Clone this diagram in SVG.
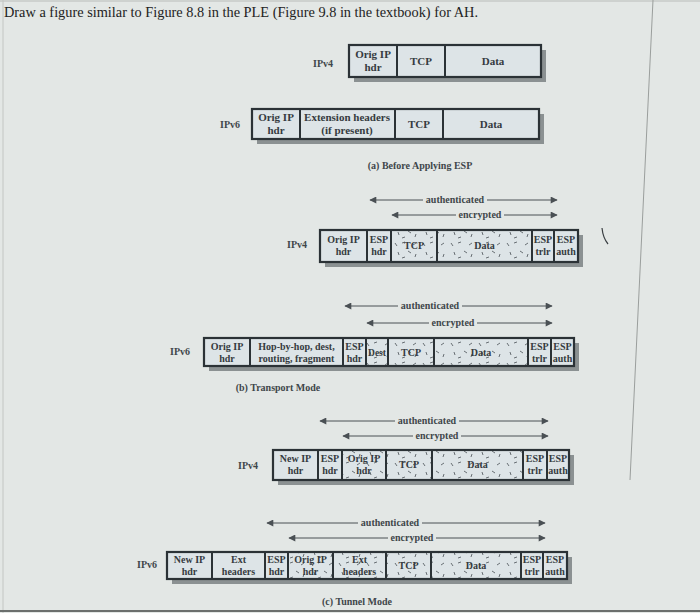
<svg xmlns="http://www.w3.org/2000/svg" width="700" height="613" viewBox="0 0 700 613">
<style>
.bg{fill:#e3e7e5}
.sh{fill:#8b9192}
.bx{fill:#dde4e7;stroke:#2b3236;stroke-width:2.2}
.dv{stroke:#2b3236;stroke-width:2}
.sp{fill:url(#spk)}
.t{font-family:"Liberation Serif","Times New Roman",serif;font-weight:bold;font-size:10px;fill:#353b40;text-anchor:middle}
.ta{font-size:11px}
.lb{font-family:"Liberation Serif","Times New Roman",serif;font-weight:bold;font-size:10px;fill:#40464a;text-anchor:middle}
.ar{stroke:#4a5054;stroke-width:1;fill:none;marker-start:url(#ah);marker-end:url(#ah)}
.gap{fill:#e3e7e5}
.title{font-family:"Liberation Serif","Times New Roman",serif;font-size:15px;fill:#222}
</style>
<defs>
<marker id="ah" viewBox="0 0 10 10" refX="9" refY="5" markerWidth="10" markerHeight="7" markerUnits="userSpaceOnUse" orient="auto-start-reverse">
<path d="M0 0L10 5L0 10z" fill="#4a5054"/>
</marker>
<pattern id="spk" width="28" height="20" patternUnits="userSpaceOnUse">
<path d="M3 3l2 3M13 2l-3 1M21 5l3-2M6 12l1 3M16 11l3 2M24 14l-1 3M10 18l3-1" stroke="#5a6165" stroke-width="0.9"/>
</pattern>
</defs>
<rect class="bg" x="0" y="0" width="700" height="613"/>
<line x1="0" y1="1" x2="700" y2="1" stroke="#b9bcb9" stroke-width="1"/>
<line x1="653" y1="0" x2="630" y2="480" stroke="#9a9e9c" stroke-width="1"/>
<line x1="3" y1="0" x2="3" y2="613" stroke="#c3c6c3" stroke-width="1"/>
<line x1="0" y1="611" x2="700" y2="611" stroke="#6b6f6d" stroke-width="2"/>
<text class="title" x="4" y="17" textLength="474" lengthAdjust="spacingAndGlyphs">Draw a figure similar to Figure 8.8 in the PLE (Figure 9.8 in the textbook) for AH.</text>
<path d="M602 228 q1 10 6 16" stroke="#3a3f42" stroke-width="1.2" fill="none"/>

<!-- (a) IPv4 -->
<g id="a-ipv4">
<text class="lb ta" x="323" y="67">IPv4</text>
<rect class="sh" x="354" y="50" width="192" height="32"/>
<rect class="bx" x="349" y="45" width="192" height="32"/>
<line class="dv" x1="397" y1="45" x2="397" y2="77"/>
<line class="dv" x1="445" y1="45" x2="445" y2="77"/>
<text class="t ta" x="373" y="58">Orig IP</text><text class="t ta" x="373" y="71">hdr</text>
<text class="t ta" x="421" y="65">TCP</text>
<text class="t ta" x="493" y="65">Data</text>
</g>

<!-- (a) IPv6 -->
<g id="a-ipv6">
<text class="lb ta" x="230" y="128">IPv6</text>
<rect class="sh" x="257" y="114" width="287" height="30"/>
<rect class="bx" x="252" y="109" width="287" height="30"/>
<line class="dv" x1="300" y1="109" x2="300" y2="139"/>
<line class="dv" x1="395" y1="109" x2="395" y2="139"/>
<line class="dv" x1="443" y1="109" x2="443" y2="139"/>
<text class="t ta" x="276" y="121">Orig IP</text><text class="t ta" x="276" y="134">hdr</text>
<text class="t ta" x="347" y="121">Extension headers</text><text class="t ta" x="347" y="134">(if present)</text>
<text class="t ta" x="419" y="128">TCP</text>
<text class="t ta" x="491" y="128">Data</text>
</g>
<text class="lb ta" x="420" y="169">(a) Before Applying ESP</text>

<!-- connectors (arrows) -->
<g id="connectors">
<line class="ar" x1="370" y1="200" x2="557" y2="200"/>
<rect class="gap" x="423" y="194" width="64" height="12"/>
<text class="lb" x="455" y="203">authenticated</text>
<line class="ar" x1="392" y1="215" x2="557" y2="215"/>
<rect class="gap" x="456" y="209" width="48" height="12"/>
<text class="lb" x="480" y="218">encrypted</text>

<line class="ar" x1="345" y1="306" x2="552" y2="306"/>
<rect class="gap" x="398" y="300" width="64" height="12"/>
<text class="lb" x="430" y="309">authenticated</text>
<line class="ar" x1="367" y1="323" x2="552" y2="323"/>
<rect class="gap" x="429" y="317" width="48" height="12"/>
<text class="lb" x="453" y="326">encrypted</text>

<line class="ar" x1="320" y1="421" x2="548" y2="421"/>
<rect class="gap" x="395" y="415" width="64" height="12"/>
<text class="lb" x="427" y="424">authenticated</text>
<line class="ar" x1="343" y1="436" x2="548" y2="436"/>
<rect class="gap" x="413" y="430" width="48" height="12"/>
<text class="lb" x="437" y="439">encrypted</text>

<line class="ar" x1="267" y1="523" x2="545" y2="523"/>
<rect class="gap" x="358" y="517" width="64" height="12"/>
<text class="lb" x="390" y="526">authenticated</text>
<line class="ar" x1="289" y1="538" x2="545" y2="538"/>
<rect class="gap" x="388" y="532" width="48" height="12"/>
<text class="lb" x="412" y="541">encrypted</text>
</g>

<!-- (b) IPv4 -->
<g id="b-ipv4">
<text class="lb" x="297" y="248">IPv4</text>
<rect class="sh" x="325" y="235" width="258" height="32"/>
<rect class="bx" x="320" y="230" width="258" height="32"/>
<rect class="sp" x="391" y="231" width="141" height="30"/>
<line class="dv" x1="367" y1="230" x2="367" y2="262"/>
<line class="dv" x1="391" y1="230" x2="391" y2="262"/>
<line class="dv" x1="437" y1="230" x2="437" y2="262"/>
<line class="dv" x1="532" y1="230" x2="532" y2="262"/>
<line class="dv" x1="554" y1="230" x2="554" y2="262"/>
<text class="t" x="343.5" y="243">Orig IP</text><text class="t" x="343.5" y="255">hdr</text>
<text class="t" x="379" y="243">ESP</text><text class="t" x="379" y="255">hdr</text>
<text class="t" x="414" y="249">TCP</text>
<text class="t" x="484.5" y="249">Data</text>
<text class="t" x="543" y="243">ESP</text><text class="t" x="543" y="255">trlr</text>
<text class="t" x="566" y="243">ESP</text><text class="t" x="566" y="255">auth</text>
</g>

<!-- (b) IPv6 -->
<g id="b-ipv6">
<text class="lb" x="180" y="355">IPv6</text>
<rect class="sh" x="209" y="343" width="370" height="28"/>
<rect class="bx" x="204" y="338" width="370" height="28"/>
<rect class="sp" x="366" y="339" width="162" height="26"/>
<line class="dv" x1="250" y1="338" x2="250" y2="366"/>
<line class="dv" x1="343" y1="338" x2="343" y2="366"/>
<line class="dv" x1="366" y1="338" x2="366" y2="366"/>
<line class="dv" x1="388" y1="338" x2="388" y2="366"/>
<line class="dv" x1="434" y1="338" x2="434" y2="366"/>
<line class="dv" x1="528" y1="338" x2="528" y2="366"/>
<line class="dv" x1="551" y1="338" x2="551" y2="366"/>
<text class="t" x="227" y="350">Orig IP</text><text class="t" x="227" y="362">hdr</text>
<text class="t" x="296.5" y="350">Hop-by-hop, dest,</text><text class="t" x="296.5" y="362">routing, fragment</text>
<text class="t" x="354.5" y="350">ESP</text><text class="t" x="354.5" y="362">hdr</text>
<text class="t" x="377" y="356" style="font-size:9.5px">Dest</text>
<text class="t" x="411" y="356">TCP</text>
<text class="t" x="481" y="356">Data</text>
<text class="t" x="539.5" y="350">ESP</text><text class="t" x="539.5" y="362">trlr</text>
<text class="t" x="562.5" y="350">ESP</text><text class="t" x="562.5" y="362">auth</text>
</g>
<text class="lb" x="278" y="391">(b) Transport Mode</text>

<!-- (c) IPv4 -->
<g id="c-ipv4">
<text class="lb" x="248" y="469">IPv4</text>
<rect class="sh" x="278" y="455" width="296" height="30"/>
<rect class="bx" x="273" y="450" width="296" height="30"/>
<rect class="sp" x="342" y="451" width="181" height="28"/>
<line class="dv" x1="318" y1="450" x2="318" y2="480"/>
<line class="dv" x1="342" y1="450" x2="342" y2="480"/>
<line class="dv" x1="386" y1="450" x2="386" y2="480"/>
<line class="dv" x1="432" y1="450" x2="432" y2="480"/>
<line class="dv" x1="523" y1="450" x2="523" y2="480"/>
<line class="dv" x1="547" y1="450" x2="547" y2="480"/>
<text class="t" x="295.5" y="462">New IP</text><text class="t" x="295.5" y="474">hdr</text>
<text class="t" x="330" y="462">ESP</text><text class="t" x="330" y="474">hdr</text>
<text class="t" x="364" y="462">Orig IP</text><text class="t" x="364" y="474">hdr</text>
<text class="t" x="409" y="468">TCP</text>
<text class="t" x="477.5" y="468">Data</text>
<text class="t" x="535" y="462">ESP</text><text class="t" x="535" y="474">trlr</text>
<text class="t" x="558" y="462">ESP</text><text class="t" x="558" y="474">auth</text>
</g>

<!-- (c) IPv6 -->
<g id="c-ipv6">
<text class="lb" x="147" y="568">IPv6</text>
<rect class="sh" x="172" y="557" width="400" height="27"/>
<rect class="bx" x="167" y="552" width="400" height="27"/>
<rect class="sp" x="288" y="553" width="233" height="25"/>
<line class="dv" x1="212" y1="552" x2="212" y2="579"/>
<line class="dv" x1="265" y1="552" x2="265" y2="579"/>
<line class="dv" x1="288" y1="552" x2="288" y2="579"/>
<line class="dv" x1="333" y1="552" x2="333" y2="579"/>
<line class="dv" x1="386" y1="552" x2="386" y2="579"/>
<line class="dv" x1="431" y1="552" x2="431" y2="579"/>
<line class="dv" x1="521" y1="552" x2="521" y2="579"/>
<line class="dv" x1="543" y1="552" x2="543" y2="579"/>
<text class="t" x="189.5" y="563">New IP</text><text class="t" x="189.5" y="575">hdr</text>
<text class="t" x="238.5" y="563">Ext</text><text class="t" x="238.5" y="575">headers</text>
<text class="t" x="276.5" y="563">ESP</text><text class="t" x="276.5" y="575">hdr</text>
<text class="t" x="310.5" y="563">Orig IP</text><text class="t" x="310.5" y="575">hdr</text>
<text class="t" x="359.5" y="563">Ext</text><text class="t" x="359.5" y="575">headers</text>
<text class="t" x="408.5" y="569">TCP</text>
<text class="t" x="476" y="569">Data</text>
<text class="t" x="532" y="563">ESP</text><text class="t" x="532" y="575">trlr</text>
<text class="t" x="555" y="563">ESP</text><text class="t" x="555" y="575">auth</text>
</g>
<text class="lb" x="357" y="605">(c) Tunnel Mode</text>
</svg>
